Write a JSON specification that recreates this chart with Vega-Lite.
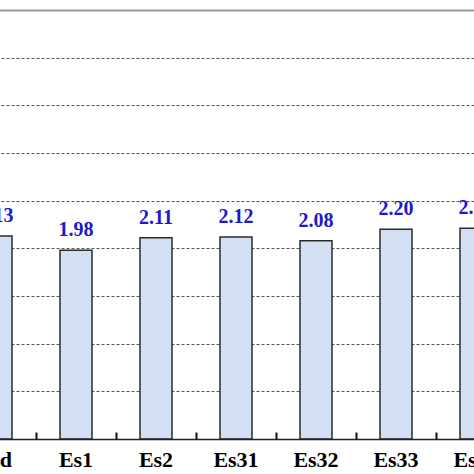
{
  "$schema": "https://vega.github.io/schema/vega-lite/v6.json",
  "width": 474,
  "height": 429,
  "autosize": {"type": "none"},
  "padding": {"top": 10, "left": 0, "right": 0, "bottom": 35},
  "background": "white",
  "config": {"view": {"stroke": null}},
  "data": {
    "values": [
      {"name": "Std", "value": 2.13},
      {"name": "Es1", "value": 1.98},
      {"name": "Es2", "value": 2.11},
      {"name": "Es31", "value": 2.12},
      {"name": "Es32", "value": 2.08},
      {"name": "Es33", "value": 2.20},
      {"name": "Es34", "value": 2.21}
    ]
  },
  "resolve": {"axis": {"x": "independent"}},
  "encoding": {
    "y": {
      "field": "value",
      "type": "quantitative",
      "scale": {"domain": [0, 4.5], "nice": false},
      "axis": {
        "title": null,
        "values": [0.5, 1, 1.5, 2, 2.5, 3, 3.5, 4, 4.5],
        "labels": false,
        "ticks": false,
        "domain": false,
        "grid": true,
        "gridColor": {"condition": {"test": "datum.value === 4.5", "value": "#999"}, "value": "#555"},
        "gridDash": {"condition": {"test": "datum.value === 4.5", "value": []}, "value": [3, 2]},
        "gridWidth": {"condition": {"test": "datum.value === 4.5", "value": 2}, "value": 1}
      }
    }
  },
  "layer": [
    {
      "mark": {"type": "bar", "fill": "#d3e0f3", "stroke": "#2a2a2a", "strokeWidth": 1.5},
      "encoding": {
        "x": {
          "field": "name",
          "type": "nominal",
          "sort": null,
          "scale": {"type": "band", "range": [-44, 516], "paddingInner": 0.6, "paddingOuter": 0.3},
          "axis": {
            "orient": "bottom",
            "title": null,
            "labelAngle": 0,
            "labelFont": "Liberation Serif",
            "labelFontWeight": "bold",
            "labelFontSize": 22,
            "labelColor": "black",
            "labelPadding": 10,
            "domainColor": "#222",
            "domainWidth": 1.5,
            "ticks": false,
            "grid": false,
            "zindex": 1
          }
        }
      }
    },
    {
      "mark": {
        "type": "text",
        "font": "Liberation Serif",
        "fontWeight": "bold",
        "fontSize": 20,
        "color": "#1a1acc",
        "baseline": "alphabetic",
        "dy": -14
      },
      "encoding": {
        "x": {
          "field": "name",
          "type": "nominal",
          "sort": null,
          "axis": {
            "orient": "bottom",
            "title": null,
            "labels": false,
            "domain": false,
            "ticks": true,
            "tickColor": "#111",
            "tickWidth": 2,
            "tickSize": 7,
            "tickOffset": 40,
            "offset": -7,
            "grid": false,
            "zindex": 1
          }
        },
        "text": {"field": "value", "type": "quantitative", "format": ".2f"}
      }
    }
  ]
}
